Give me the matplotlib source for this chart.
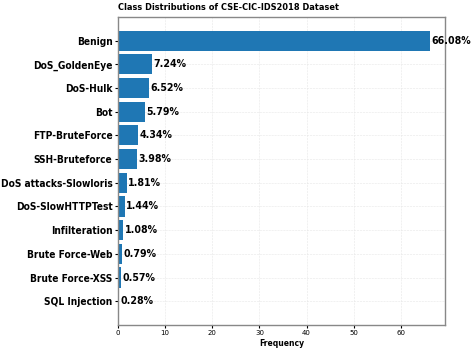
import matplotlib
matplotlib.use("Agg")
import matplotlib.pyplot as plt

classes = ["Benign", "DoS_GoldenEye", "DoS-Hulk", "Bot", "FTP-BruteForce",
           "SSH-Bruteforce", "DoS attacks-Slowloris", "DoS-SlowHTTPTest",
           "Infilteration", "Brute Force-Web", "Brute Force-XSS", "SQL Injection"]
percent = [66.08, 7.24, 6.52, 5.79, 4.34, 3.98, 1.81, 1.44, 1.08, 0.79, 0.57, 0.28]

fig = plt.figure(figsize=(4.74, 3.52), dpi=100)
ax = fig.add_axes([0.249, 0.077, 0.690, 0.875])

pos = list(range(len(classes)))
bars = ax.barh(pos, percent, height=0.85, color="#1f77b4")
for b, v in zip(bars, percent):
    ax.text(b.get_width() + 0.3, b.get_y() + b.get_height() / 2, "%.2f%%" % v,
            va="center", ha="left", fontsize=7.6, fontweight="bold", fontstretch="condensed")

ax.set_yticks(pos)
ax.set_yticklabels(classes, fontsize=7.3, fontweight="bold", fontstretch="condensed")
ax.set_ylim(len(classes), -1)
ax.set_xlim(0, max(percent) * 1.05)
ax.set_xticks(range(0, 70, 10))
ax.tick_params(axis="x", labelsize=5, length=2, pad=2)
ax.tick_params(axis="y", length=2, pad=2)
ax.set_xlabel("Frequency", fontsize=5.5, fontweight="bold", labelpad=2)
ax.grid(True, linestyle="--", linewidth=0.4, color="#e6e6e6")
ax.set_axisbelow(True)
for s in ax.spines.values():
    s.set_color("#888888")
    s.set_linewidth(1.0)
ax.set_title("Class Distributions of CSE-CIC-IDS2018 Dataset", loc="left",
             fontsize=6.6, fontweight="bold", fontstretch="condensed", pad=5)

fig.savefig("out.png", dpi=100)
